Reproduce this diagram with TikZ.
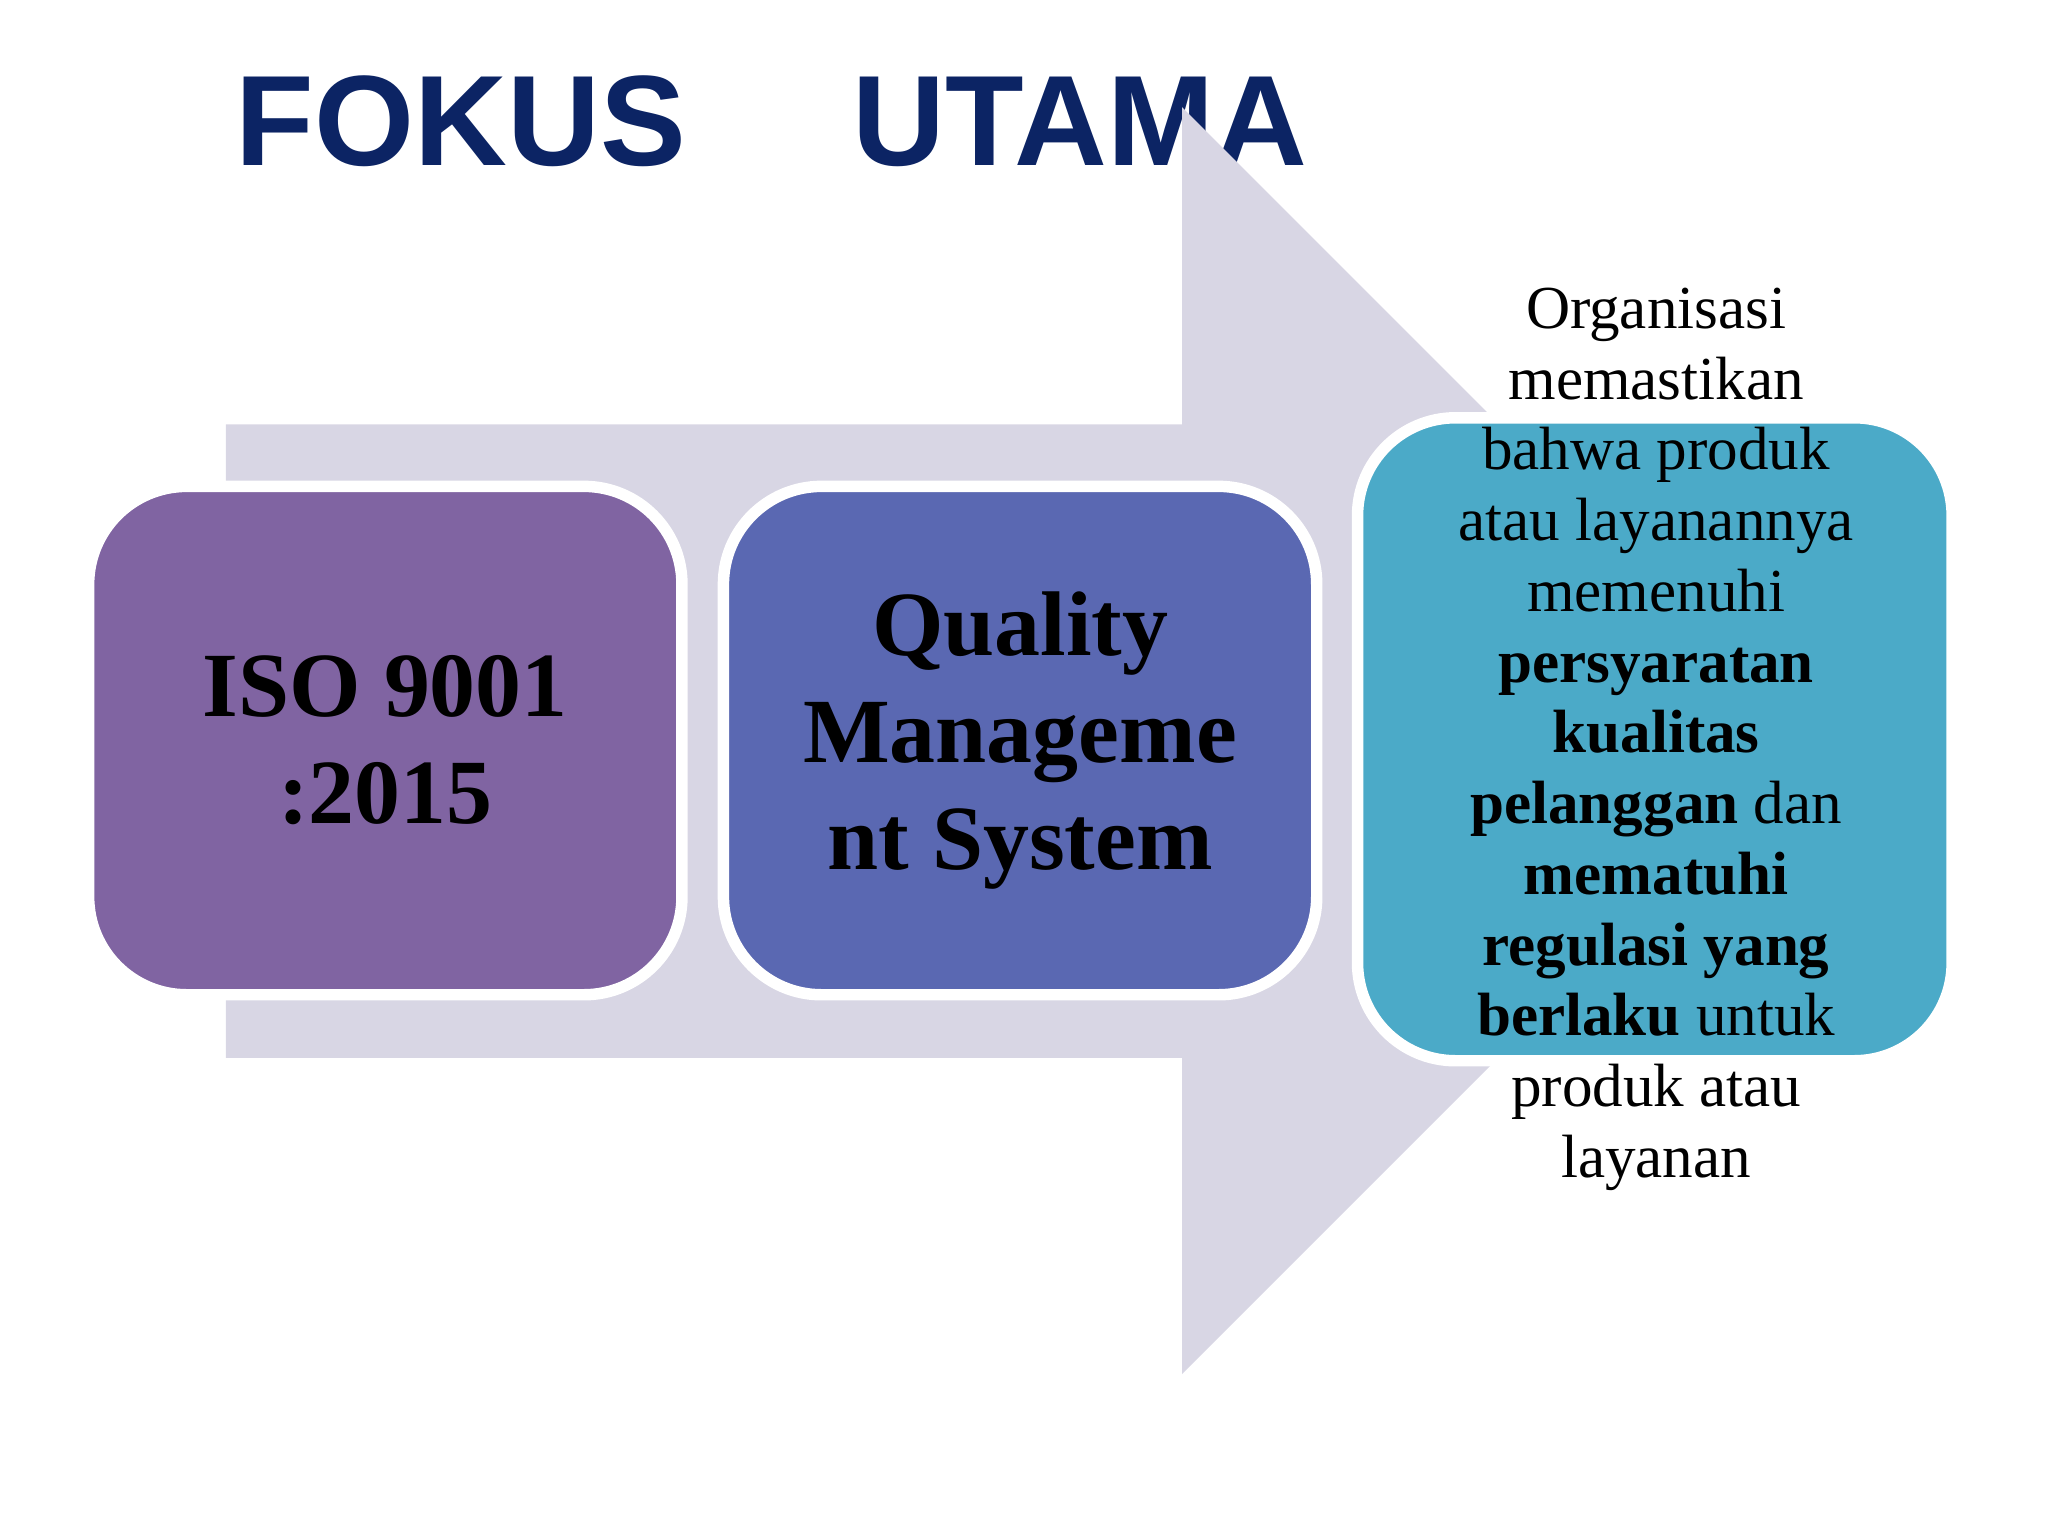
\documentclass[tikz,border=0pt]{standalone}
\usepackage{fontspec}
\setmainfont{Liberation Serif}
\newfontfamily\titlefont{Liberation Sans}
\definecolor{arrowgray}{RGB}{216,214,228}
\definecolor{isopurple}{RGB}{128,100,162}
\definecolor{qmsblue}{RGB}{90,104,178}
\definecolor{orgteal}{RGB}{75,170,200}
\definecolor{titlenavy}{RGB}{12,36,100}
\begin{document}
\begin{tikzpicture}[x=0.01cm, y=-0.01cm]

	% page
	\useasboundingbox (0,0) rectangle (1568,1176);

	\tikzset{
		stepbox/.style={draw=white, line width=2.5pt, rounded corners=0.75cm, minimum width=4.54cm, minimum height=3.89cm, align=center},
		bigtext/.style={font=\fontsize{20}{23.3}\selectfont\bfseries},
	}

	% title
	\node [font=\titlefont\fontsize{28}{32}\selectfont\bfseries, text=titlenavy, anchor=west] (title) at (168,93) {FOKUS\hspace{1.3em}UTAMA};

	% big arrow
	\fill [arrowgray] (173,325) -- (905,325) -- (905,82) -- (1390,567) -- (905,1052) -- (905,810) -- (173,810) -- cycle;

	% boxes
	\node [stepbox, fill=isopurple, bigtext] (iso) at (295,567) {ISO 9001\\:2015};
	\node [stepbox, fill=qmsblue, bigtext] (qms) at (781,567) {Quality\\Manageme\\nt System};
	\node [stepbox, fill=orgteal, minimum width=4.55cm, minimum height=4.92cm] (org) at (1267,566) {};

	% text over the teal box
	\node [align=center, font=\fontsize{13.3}{15.4}\selectfont] (orgtext) at (1268,566) {Organisasi\\memastikan\\bahwa produk\\atau layanannya\\memenuhi\\\textbf{persyaratan}\\\textbf{kualitas}\\\textbf{pelanggan} dan\\\textbf{mematuhi}\\\textbf{regulasi yang}\\\textbf{berlaku} untuk\\produk atau\\layanan};

\end{tikzpicture}
\end{document}
